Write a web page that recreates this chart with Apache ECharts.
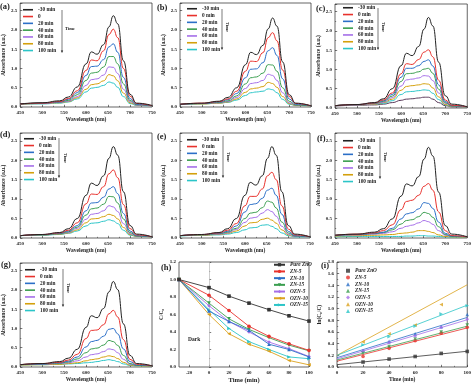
<!DOCTYPE html>
<html><head><meta charset="utf-8">
<script src="https://cdn.jsdelivr.net/npm/echarts@6/dist/echarts.min.js"></script>
<style>html,body{margin:0;padding:0;background:#fff}#c{width:474px;height:386px}</style>
</head><body><div id="c"></div>
<script>
// ---------- DATA ----------
const wavelengths = [450,500,540,560,580,600,612,625,640,652,662,672,685,700,715,750];
const timeNamesA = ['-30 min','0','20 min','40 min','60 min','80 min','100 min'];
const timeNames = ['-30 min','0 min','20 min','40 min','60 min','80 min','100 min'];

const specA = [
 [0.08,0.11,0.16,0.26,0.52,1.12,1.43,1.37,1.62,2.08,2.37,2.16,1.20,0.33,0.10,0.04],
 [0.08,0.10,0.14,0.22,0.42,0.95,1.22,1.20,1.46,1.88,2.02,1.80,1.00,0.28,0.09,0.03],
 [0.08,0.10,0.13,0.20,0.37,0.82,1.05,1.06,1.23,1.56,1.64,1.42,0.77,0.22,0.07,0.03],
 [0.08,0.10,0.13,0.17,0.32,0.69,0.88,0.90,1.04,1.31,1.31,1.12,0.60,0.17,0.06,0.03],
 [0.08,0.09,0.12,0.15,0.27,0.56,0.71,0.73,0.83,1.04,1.03,0.87,0.46,0.14,0.05,0.03],
 [0.07,0.09,0.11,0.14,0.24,0.46,0.58,0.60,0.68,0.84,0.81,0.68,0.36,0.11,0.05,0.03],
 [0.07,0.08,0.10,0.13,0.21,0.39,0.49,0.51,0.56,0.65,0.62,0.51,0.27,0.09,0.04,0.03]
];
const specB = [
 [0.07,0.10,0.15,0.25,0.50,1.10,1.42,1.36,1.60,2.03,2.31,2.10,1.17,0.32,0.10,0.03],
 [0.07,0.10,0.14,0.21,0.41,0.93,1.19,1.18,1.41,1.80,1.93,1.72,0.96,0.27,0.09,0.03],
 [0.07,0.09,0.13,0.19,0.35,0.76,0.98,0.99,1.15,1.46,1.54,1.34,0.73,0.21,0.07,0.03],
 [0.07,0.09,0.12,0.16,0.29,0.60,0.76,0.78,0.88,1.10,1.09,0.93,0.50,0.15,0.05,0.03],
 [0.07,0.09,0.11,0.14,0.25,0.48,0.61,0.63,0.69,0.85,0.82,0.69,0.37,0.11,0.05,0.03],
 [0.07,0.08,0.10,0.13,0.21,0.38,0.47,0.49,0.53,0.64,0.61,0.51,0.27,0.09,0.04,0.03],
 [0.06,0.08,0.10,0.12,0.18,0.30,0.37,0.39,0.41,0.47,0.45,0.37,0.20,0.07,0.04,0.03]
];
const specC = [
 [0.06,0.09,0.14,0.24,0.50,1.10,1.42,1.36,1.60,2.05,2.35,2.13,1.19,0.32,0.10,0.03],
 [0.06,0.09,0.13,0.21,0.39,0.89,1.15,1.13,1.26,1.45,1.51,1.33,0.72,0.21,0.07,0.03],
 [0.06,0.09,0.13,0.19,0.35,0.80,1.03,1.03,1.10,1.21,1.25,1.09,0.60,0.17,0.06,0.03],
 [0.06,0.09,0.12,0.17,0.31,0.69,0.89,0.90,0.94,1.01,1.03,0.90,0.49,0.14,0.05,0.03],
 [0.06,0.08,0.11,0.15,0.27,0.57,0.73,0.75,0.78,0.84,0.83,0.71,0.39,0.12,0.05,0.03],
 [0.06,0.08,0.10,0.14,0.23,0.46,0.56,0.58,0.60,0.63,0.62,0.52,0.29,0.09,0.04,0.03],
 [0.06,0.08,0.10,0.12,0.19,0.35,0.42,0.43,0.45,0.47,0.46,0.38,0.22,0.08,0.04,0.03]
];
const specCExtra = [0.05,0.07,0.08,0.10,0.14,0.20,0.23,0.24,0.26,0.28,0.28,0.23,0.14,0.06,0.03,0.03];
const specD = [
 [0.06,0.09,0.14,0.24,0.50,1.10,1.41,1.35,1.60,2.05,2.35,2.13,1.19,0.32,0.10,0.03],
 [0.06,0.09,0.13,0.20,0.39,0.88,1.13,1.12,1.32,1.65,1.75,1.55,0.86,0.24,0.08,0.03],
 [0.06,0.09,0.12,0.18,0.32,0.70,0.90,0.91,1.05,1.26,1.32,1.14,0.63,0.18,0.06,0.03],
 [0.06,0.08,0.11,0.16,0.28,0.59,0.75,0.77,0.87,1.07,1.06,0.90,0.49,0.14,0.05,0.03],
 [0.06,0.08,0.11,0.14,0.25,0.48,0.61,0.63,0.70,0.83,0.80,0.68,0.37,0.11,0.05,0.03],
 [0.06,0.08,0.10,0.13,0.21,0.39,0.49,0.50,0.55,0.61,0.58,0.49,0.27,0.09,0.04,0.03],
 [0.06,0.07,0.09,0.12,0.18,0.31,0.38,0.39,0.43,0.47,0.44,0.37,0.20,0.07,0.04,0.03]
];
const specE = [
 [0.06,0.09,0.14,0.24,0.50,1.10,1.43,1.36,1.60,2.05,2.35,2.13,1.19,0.32,0.10,0.03],
 [0.06,0.09,0.13,0.20,0.37,0.83,1.07,1.07,1.26,1.60,1.69,1.50,0.83,0.23,0.08,0.03],
 [0.06,0.09,0.12,0.17,0.31,0.67,0.86,0.88,1.02,1.23,1.28,1.10,0.61,0.17,0.06,0.03],
 [0.06,0.08,0.11,0.15,0.25,0.50,0.64,0.66,0.78,0.95,0.92,0.77,0.41,0.13,0.05,0.03],
 [0.06,0.08,0.10,0.13,0.22,0.40,0.51,0.53,0.64,0.73,0.68,0.56,0.30,0.10,0.04,0.03],
 [0.06,0.07,0.09,0.12,0.18,0.31,0.39,0.40,0.48,0.51,0.46,0.38,0.21,0.08,0.04,0.03],
 [0.05,0.07,0.08,0.10,0.14,0.21,0.26,0.27,0.33,0.34,0.30,0.24,0.13,0.06,0.03,0.03]
];
const specF = [
 [0.07,0.10,0.15,0.24,0.49,1.08,1.39,1.34,1.58,2.03,2.33,2.11,1.18,0.32,0.10,0.03],
 [0.07,0.10,0.13,0.19,0.34,0.73,0.94,0.97,1.10,1.33,1.40,1.23,0.67,0.19,0.06,0.03],
 [0.07,0.09,0.12,0.15,0.25,0.49,0.62,0.65,0.75,0.91,0.89,0.76,0.41,0.12,0.05,0.03],
 [0.07,0.09,0.11,0.14,0.21,0.36,0.45,0.47,0.55,0.66,0.63,0.53,0.29,0.09,0.04,0.03],
 [0.06,0.08,0.10,0.12,0.16,0.25,0.30,0.33,0.39,0.45,0.42,0.35,0.19,0.07,0.04,0.03],
 [0.05,0.06,0.07,0.08,0.09,0.12,0.13,0.15,0.19,0.19,0.17,0.14,0.08,0.04,0.03,0.02],
 [0.03,0.04,0.04,0.04,0.04,0.04,0.05,0.05,0.06,0.06,0.05,0.05,0.04,0.03,0.02,0.02]
];
const specG = [
 [0.06,0.09,0.14,0.23,0.46,1.03,1.33,1.28,1.52,1.95,2.22,2.01,1.12,0.30,0.09,0.03],
 [0.06,0.09,0.12,0.18,0.33,0.74,0.95,0.96,1.10,1.38,1.47,1.30,0.71,0.20,0.07,0.03],
 [0.06,0.08,0.11,0.15,0.26,0.52,0.66,0.69,0.80,0.98,1.00,0.86,0.47,0.14,0.05,0.03],
 [0.06,0.08,0.10,0.13,0.21,0.37,0.47,0.49,0.57,0.69,0.66,0.56,0.30,0.09,0.04,0.03],
 [0.06,0.07,0.09,0.11,0.16,0.26,0.32,0.34,0.40,0.47,0.45,0.37,0.20,0.07,0.04,0.03],
 [0.05,0.06,0.07,0.09,0.11,0.16,0.19,0.21,0.26,0.29,0.27,0.22,0.12,0.05,0.03,0.02],
 [0.05,0.06,0.07,0.08,0.09,0.11,0.12,0.14,0.17,0.19,0.17,0.14,0.08,0.04,0.03,0.02]
];

const sampleNames = ['Pure ZnO','ZN-5','ZN-10','ZN-15','OZN-5','OZN-10','OZN-15'];
const timeH = [-30,0,20,40,60,80,100];
const ratioH = [
 [1.0,0.907,0.81,0.73,0.655,0.585,0.525],
 [1.0,0.82,0.645,0.465,0.35,0.265,0.19],
 [1.0,0.64,0.52,0.42,0.26,0.20,0.115],
 [1.0,0.73,0.55,0.43,0.335,0.25,0.185],
 [1.0,0.70,0.52,0.40,0.285,0.21,0.12],
 [1.0,0.60,0.38,0.26,0.18,0.075,0.025],
 [1.0,0.655,0.44,0.29,0.20,0.115,0.095]
];
const timeI = [20,40,60,80,100];
const lnI = [
 [0.085,0.136,0.18,0.233,0.267],
 [0.18,0.32,0.45,0.58,0.68],
 [0.28,0.44,0.57,0.69,0.90],
 [0.24,0.35,0.48,0.60,0.72],
 [0.28,0.42,0.53,0.68,0.82],
 [0.43,0.57,0.72,1.07,null],
 [0.38,0.52,0.70,0.91,1.05]
];
const fitTimes = [0,100];
const fitStart = [0.04,0.10,0.16,0.12,0.14,0.20,0.20];
const fitEnd = [0.27,0.67,0.85,0.70,0.81,1.41,1.06];

// ---------- STYLE ----------
const FONT = 'Liberation Serif';
const INK = '#222';
const specColors = ['#222222','#e8312c','#2b6fc7','#3a9e4f','#a56ee8','#d4a00c','#2cc5c8'];
const sampleColors = ['#333333','#e8312c','#2b6fc7','#3a9e4f','#a56ee8','#dba21e','#2cc5c8'];
const sampleSymbols = ['rect','circle','triangle','triangle','diamond','triangle','triangle'];
const sampleRot = [0,0,0,180,0,90,-90];

const specPanels = [
 {key:'a', spec:specA, names:timeNamesA, g:{left:20,top:3,width:132,height:104}, lg:{left:23,top:7}, arrow:[62,10,53], tt:[70,29,0], lab:[0,2]},
 {key:'b', spec:specB, names:timeNames, g:{left:180,top:3,width:131,height:104}, lg:{left:187,top:6}, arrow:[222,9,50], tt:[227,27,1], lab:[157,3]},
 {key:'c', spec:specC, names:timeNames, g:{left:335,top:4,width:137,height:104}, lg:{left:343,top:5}, arrow:[378,8,50], tt:[383,27,1], lab:[316,4]},
 {key:'d', spec:specD, names:timeNames, g:{left:20,top:133,width:132,height:105}, lg:{left:24,top:136}, arrow:[59,138,178], tt:[65,158,1], lab:[0,130]},
 {key:'e', spec:specE, names:timeNames, g:{left:180,top:133,width:130,height:105}, lg:{left:187,top:137}, arrow:[223,136,178], tt:[228,157,1], lab:[157,132]},
 {key:'f', spec:specF, names:timeNames, g:{left:335,top:133,width:137,height:105}, lg:{left:343,top:138}, arrow:[380,137,179], tt:[385,157,1], lab:[317,134]},
 {key:'g', spec:specG, names:timeNames, g:{left:20,top:263,width:132,height:104}, lg:{left:25,top:267}, arrow:[63,269,307], tt:[68,288,1], lab:[1,260]}
];

const labelStyle = {fontFamily:FONT, fontWeight:'bold', fontSize:5, color:INK};
const nameStyle = {fontFamily:FONT, fontWeight:'bold', fontSize:5.5, color:INK};

function baseAxis(extra){
  return Object.assign({
    type:'value',
    nameLocation:'middle',
    nameTextStyle:nameStyle,
    axisLine:{show:false},
    axisTick:{show:true, inside:true, length:2.2, lineStyle:{color:INK,width:0.6}},
    minorTick:{show:true, splitNumber:2, length:1.2, lineStyle:{color:INK,width:0.5}},
    splitLine:{show:false},
    axisLabel:Object.assign({margin:3, hideOverlap:false}, labelStyle)
  }, extra);
}

const grid=[], xAxis=[], yAxis=[], series=[], legend=[], graphic=[];

specPanels.forEach((p,i)=>{
  grid.push(Object.assign({show:true, borderColor:INK, borderWidth:0.7, backgroundColor:'transparent'}, p.g));
  xAxis.push(baseAxis({gridIndex:i, min:450, max:750, interval:50, name:'Wavelength (nm)', nameGap:10}));
  yAxis.push(baseAxis({gridIndex:i, min:0, max:2.7, interval:0.5, name:'Absorbance (a.u.)', nameGap:12,
    axisLabel:Object.assign({margin:3, showMaxLabel:false, formatter:v=>v.toFixed(1)}, labelStyle)}));
  p.spec.forEach((curve,k)=>{
    series.push({type:'line', name:p.key+'|'+p.names[k], xAxisIndex:i, yAxisIndex:i,
      data:wavelengths.map((w,j)=>[w,curve[j]]), smooth:0.5, smoothMonotone:'x', symbol:'none',
      lineStyle:{width:1, color:specColors[k]}, itemStyle:{color:specColors[k]}, z:10-k});
  });
  if(p.key==='c'){
    series.push({type:'line', name:'c|extra', xAxisIndex:i, yAxisIndex:i,
      data:wavelengths.map((w,j)=>[w,specCExtra[j]]), smooth:0.5, smoothMonotone:'x', symbol:'none',
      lineStyle:{width:1, color:'#5a3a5a'}});
  }
  legend.push({left:p.lg.left, top:p.lg.top, orient:'vertical', icon:'rect', itemWidth:10, itemHeight:1.6,
    itemGap:1.3, padding:0, selectedMode:false, data:p.names.map(n=>p.key+'|'+n),
    formatter:n=>n.split('|')[1], textStyle:{lineHeight:5.5, fontSize:5.3, fontFamily:FONT, fontWeight:'bold', color:INK}});
  const [ax,ay1,ay2]=p.arrow;
  graphic.push({type:'line', shape:{x1:ax,y1:ay1,x2:ax,y2:ay2-2}, style:{stroke:INK,lineWidth:0.6}, silent:true});
  graphic.push({type:'polygon', shape:{points:[[ax-1.2,ay2-2.6],[ax+1.2,ay2-2.6],[ax,ay2]]}, style:{fill:INK}, silent:true});
  const [tx,ty,rot]=p.tt;
  graphic.push({type:'text', x:tx, y:ty, rotation:rot?-Math.PI/2:0, silent:true,
    style:{text:'Time', font:'bold 4.5px "Liberation Serif"', fill:INK, align:'center', verticalAlign:'middle'}});
  graphic.push({type:'text', x:p.lab[0], y:p.lab[1], silent:true,
    style:{text:'('+p.key+')', font:'bold 8.5px "Liberation Serif"', fill:INK}});
});

// ---- panel h ----
const hi = 7;
grid.push({show:true, borderColor:INK, borderWidth:0.7, left:179, top:262, width:130, height:105});
xAxis.push(baseAxis({gridIndex:hi, min:-30, max:100, name:'Time (min)', nameGap:10,
  nameTextStyle:Object.assign({}, nameStyle, {fontSize:6.5}),
  axisLabel:Object.assign({margin:3, customValues:[-20,0,20,40,60,80,100]}, labelStyle),
  axisTick:{show:true, inside:true, length:2.2, customValues:[-20,0,20,40,60,80,100], lineStyle:{color:INK,width:0.6}},
  minorTick:{show:false}}));
yAxis.push(baseAxis({gridIndex:hi, min:0, max:1.2, interval:0.2, name:'C/C\u2080', nameGap:14,
  axisLabel:Object.assign({margin:3, formatter:v=>v.toFixed(1)}, labelStyle)}));
sampleNames.forEach((n,k)=>{
  const s = {type:'line', name:'h|'+n, xAxisIndex:hi, yAxisIndex:hi,
    data:timeH.map((t,j)=>[t,ratioH[k][j]]), symbol:sampleSymbols[k], symbolRotate:sampleRot[k], symbolSize:3.6,
    lineStyle:{width:0.9,color:sampleColors[k]}, itemStyle:{color:sampleColors[k]}, z:10-k};
  if(k===0){
    s.markLine = {silent:true, symbol:'none', label:{show:false}, lineStyle:{color:'#b8b8b8', width:0.7, type:'solid'}, data:[{xAxis:0}]};
  }
  series.push(s);
});
legend.push({left:273, top:262, orient:'vertical', itemWidth:11, itemHeight:4, itemGap:1.2, padding:0, selectedMode:false,
  data:sampleNames.map(n=>'h|'+n), formatter:n=>n.split('|')[1],
  textStyle:{fontFamily:FONT, fontWeight:'bold', fontStyle:'italic', fontSize:5.3, lineHeight:5.5, color:INK}});
graphic.push({type:'text', x:188, y:337, silent:true, style:{text:'Dark', font:'bold 5.5px "Liberation Serif"', fill:INK}});
graphic.push({type:'text', x:161, y:263, silent:true, style:{text:'(h)', font:'bold 8.5px "Liberation Serif"', fill:INK}});

// ---- panel i ----
const ii = 8;
grid.push({show:true, borderColor:INK, borderWidth:0.7, left:337, top:262, width:132, height:105});
xAxis.push(baseAxis({gridIndex:ii, min:0, max:100, interval:20, name:'Time (min)', nameGap:10}));
yAxis.push(baseAxis({gridIndex:ii, min:0, max:1.8, interval:0.2, name:'ln(C\u2080/C)', nameGap:14,
  axisLabel:Object.assign({margin:3, formatter:v=>v.toFixed(1)}, labelStyle)}));
sampleNames.forEach((n,k)=>{
  series.push({type:'line', name:'fit|'+n, xAxisIndex:ii, yAxisIndex:ii,
    data:[[fitTimes[0],fitStart[k]],[fitTimes[1],fitEnd[k]]], symbol:'none',
    lineStyle:{width:0.8,color:sampleColors[k]}, z:5});
  series.push({type:'scatter', name:'i|'+n, xAxisIndex:ii, yAxisIndex:ii,
    data:timeI.map((t,j)=>[t,lnI[k][j]]).filter(d=>d[1]!==null), symbol:sampleSymbols[k], symbolRotate:sampleRot[k], symbolSize:3.6,
    itemStyle:{color:sampleColors[k]}, z:10});
});
legend.push({left:346, top:268, orient:'vertical', itemWidth:4, itemHeight:4, itemGap:1.2, padding:0, selectedMode:false,
  data:sampleNames.map(n=>'i|'+n), formatter:n=>n.split('|')[1],
  textStyle:{fontFamily:FONT, fontWeight:'bold', fontStyle:'italic', fontSize:5.3, lineHeight:5.5, color:INK}});
graphic.push({type:'text', x:321, y:261, silent:true, style:{text:'(i)', font:'bold 8.5px "Liberation Serif"', fill:INK}});

const chart = echarts.init(document.getElementById('c'), null, {renderer:'canvas'});
chart.setOption({animation:false, backgroundColor:'#fff', textStyle:{fontFamily:FONT}, grid, xAxis, yAxis, series, legend, graphic});
</script></body></html>
